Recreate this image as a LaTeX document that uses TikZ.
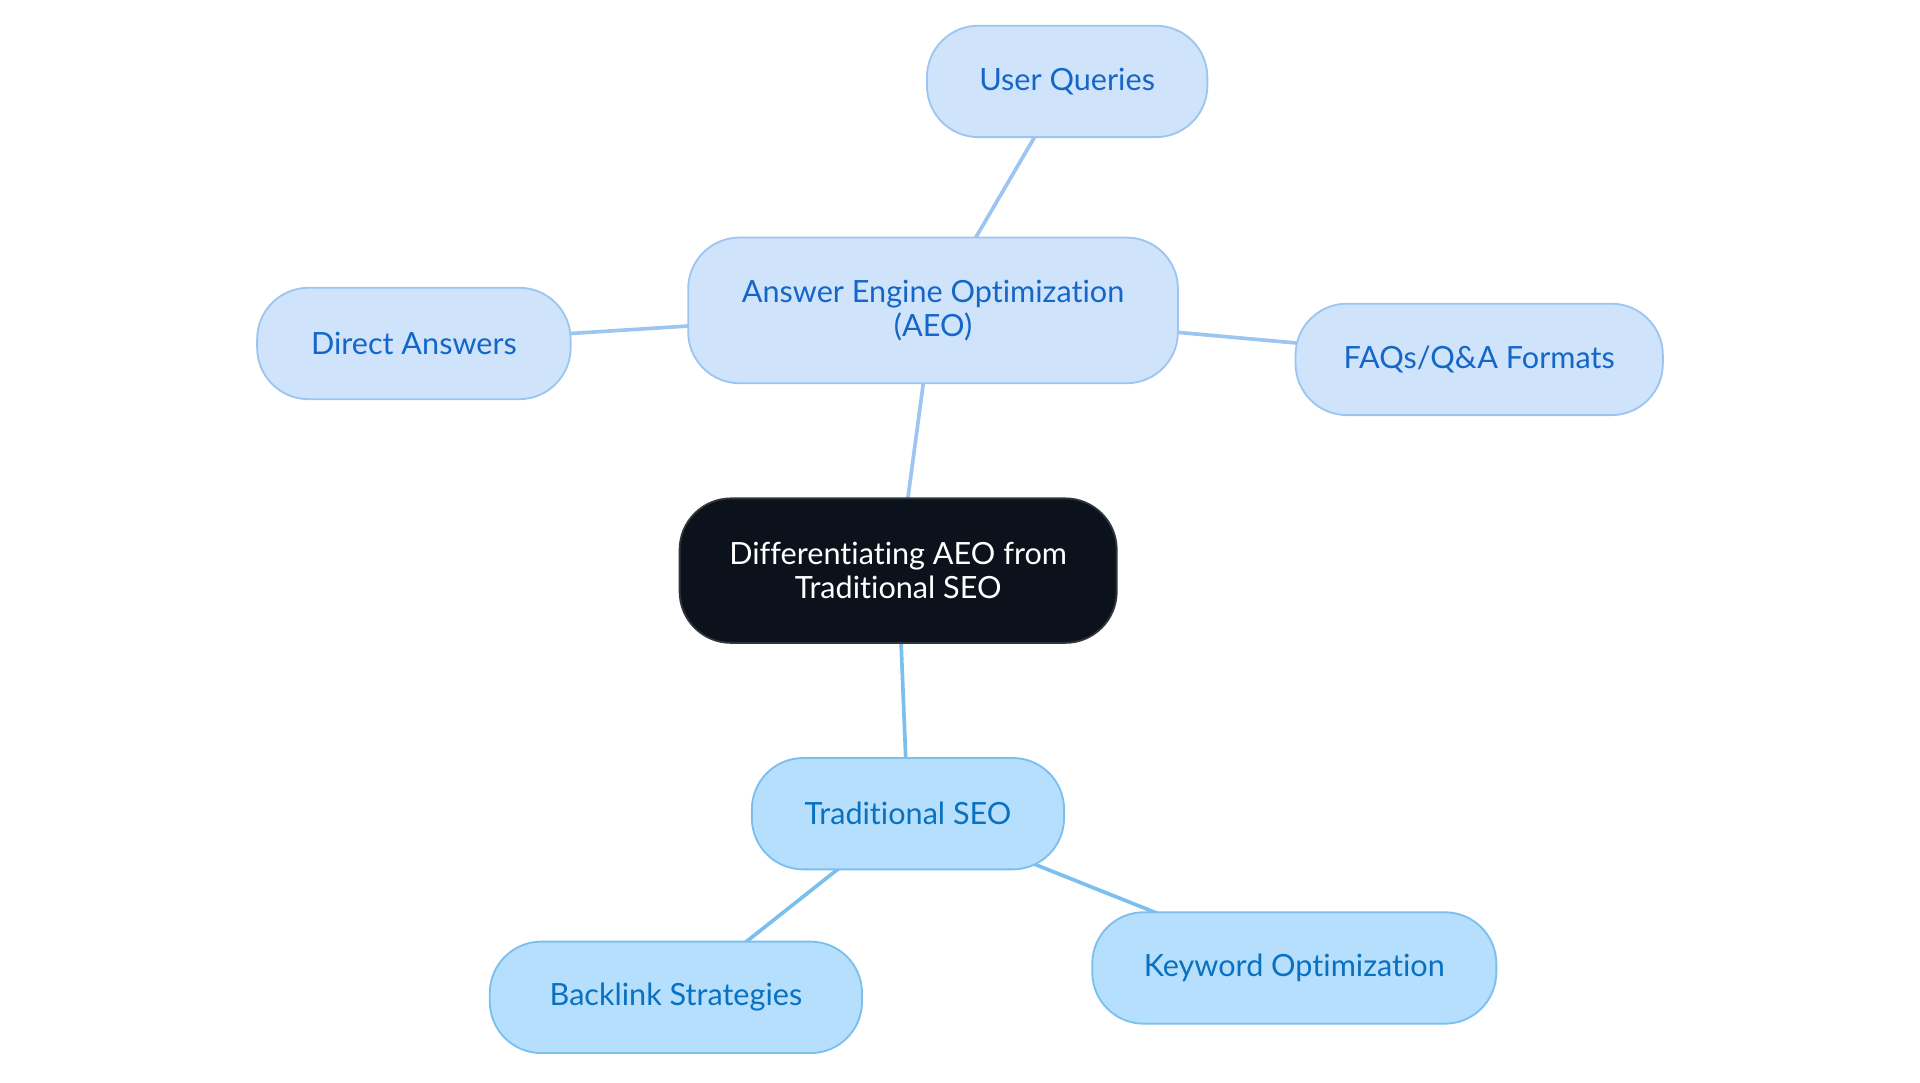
\documentclass[tikz,border=0pt]{standalone}
\usepackage{fontspec}
\setmainfont{Lato}[Ligatures=NoCommon]
\usetikzlibrary{backgrounds}
\definecolor{aeofill}{HTML}{CFE3FB}
\definecolor{aeoline}{HTML}{9DC5F1}
\definecolor{aeotext}{HTML}{1466C8}
\definecolor{seofill}{HTML}{B5DFFD}
\definecolor{seoline}{HTML}{7BBFEF}
\definecolor{seotext}{HTML}{0A70C0}
\definecolor{rootfill}{HTML}{0C121C}
\definecolor{rootline}{HTML}{30343B}
\tikzset{
  base/.style={rectangle, rounded corners=42pt, line width=1.5pt, inner sep=0pt, align=center,
    font=\fontsize{25}{28}\selectfont},
  aeobox/.style={base, fill=aeofill, draw=aeoline, text=aeotext},
  seobox/.style={base, fill=seofill, draw=seoline, text=seotext},
  rootbox/.style={base, fill=rootfill, draw=rootline, text=white},
  aeoedge/.style={draw=aeoline, line width=3pt},
  seoedge/.style={draw=seoline, line width=3pt},
}
\begin{document}
\begin{tikzpicture}[x=1pt,y=-1pt]
\useasboundingbox (0,0) rectangle (1568,884.4);
\node[rootbox, minimum width=357pt, minimum height=118pt] (root) at (733.5,466) {Differentiating AEO from\\Traditional SEO};
\node[aeobox, minimum width=400pt, minimum height=119pt] (aeo) at (762,253.5) {Answer Engine Optimization\\(AEO)};
\node[aeobox, minimum width=229pt, minimum height=91pt] (uq) at (871.5,66.5) {User Queries};
\node[aeobox, minimum width=256pt, minimum height=91pt] (da) at (338,280.5) {Direct Answers};
\node[aeobox, minimum width=300pt, minimum height=91pt] (faq) at (1208,293.5) {FAQs/Q\&A Formats};
\node[seobox, minimum width=255pt, minimum height=91pt] (seo) at (741.5,664.5) {Traditional SEO};
\node[seobox, minimum width=304pt, minimum height=91pt] (bl) at (552,814.5) {Backlink Strategies};
\node[seobox, minimum width=330pt, minimum height=91pt] (kw) at (1057,790.5) {Keyword Optimization};
\begin{scope}[on background layer]
\draw[aeoedge] (aeo.center) -- (uq.center);
\draw[aeoedge] (aeo.center) -- (da.center);
\draw[aeoedge] (aeo.center) -- (faq.center);
\draw[aeoedge] (aeo.center) -- (root.center);
\draw[seoedge] (root.center) -- (seo.center);
\draw[seoedge] (seo.center) -- (bl.center);
\draw[seoedge] (seo.center) -- (kw.center);
\end{scope}
\end{tikzpicture}
\end{document}
